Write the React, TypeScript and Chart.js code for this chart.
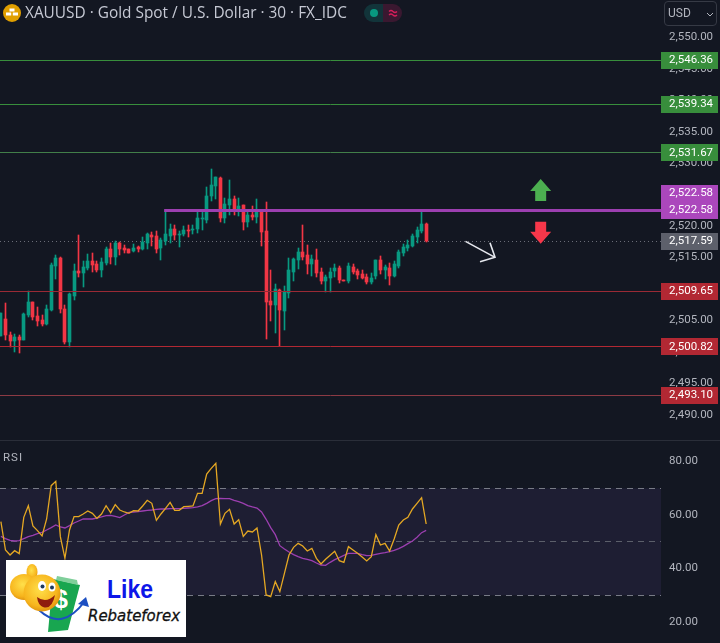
import React, { useEffect, useRef } from "react";
import { Chart, registerables } from "chart.js";

Chart.register(...registerables);

const TITLE = "XAUUSD · Gold Spot / U.S. Dollar · 30 · FX_IDC";

const OPEN = [2502.58,2505.23,2502.68,2501.73,2502.37,2501.89,2505.86,2507.93,2505.71,2505.07,2504.43,2506.66,2513.66,2514.93,2506.82,2501.57,2508.89,2512.86,2512.54,2513.34,2514.45,2513.97,2513.02,2514.13,2516.36,2515.09,2517.31,2516.52,2516.36,2516.04,2516.68,2516.36,2517.31,2518.58,2518.43,2516.52,2517.63,2518.43,2519.54,2518.64,2518.74,2519.43,2519.43,2519.54,2521.18,2520.97,2524.79,2526.38,2527.65,2521.29,2523.35,2524.31,2522.40,2523.35,2520.65,2521.76,2521.45,2522.24,2519.22,2508.09,2507.45,2509.84,2506.50,2509.36,2512.70,2514.61,2515.88,2515.40,2513.97,2514.61,2512.70,2511.27,2511.75,2512.86,2513.34,2511.43,2511.27,2513.50,2512.86,2512.38,2511.91,2511.11,2512.07,2514.61,2513.02,2513.34,2512.07,2513.66,2515.72,2516.52,2516.84,2518.27,2519.22,2520.33];
const HIGH = [2506.18,2507.77,2503.16,2502.84,2502.68,2506.18,2509.63,2507.93,2507.14,2505.86,2507.45,2514.08,2515.40,2515.09,2507.45,2509.36,2513.97,2518.58,2514.45,2515.56,2515.72,2514.45,2514.93,2516.68,2517.31,2517.63,2517.47,2516.99,2516.36,2517.15,2516.84,2518.27,2518.90,2519.06,2519.22,2518.11,2522.56,2520.33,2520.17,2519.22,2520.02,2520.17,2520.17,2522.51,2522.24,2526.22,2529.08,2527.81,2527.81,2524.47,2527.33,2524.79,2524.47,2523.35,2522.56,2523.20,2524.31,2522.24,2523.83,2513.02,2510.79,2510.00,2510.48,2514.93,2514.93,2516.52,2520.17,2516.99,2515.40,2516.36,2513.34,2512.22,2513.34,2513.97,2513.66,2511.43,2514.13,2513.97,2513.18,2513.02,2512.38,2512.54,2514.61,2515.25,2513.81,2514.13,2514.45,2516.20,2517.15,2517.79,2518.74,2519.86,2522.24,2520.49];
const LOW = [2502.58,2501.89,2500.83,2499.98,2499.82,2501.89,2505.55,2505.07,2504.12,2504.12,2504.27,2506.50,2511.59,2506.18,2501.25,2500.78,2508.25,2511.91,2510.32,2513.02,2512.70,2512.70,2511.91,2513.81,2513.97,2513.81,2515.40,2515.72,2515.72,2515.88,2515.88,2516.20,2516.36,2516.84,2515.72,2514.61,2516.99,2517.31,2517.79,2516.68,2518.43,2518.27,2518.74,2518.90,2519.38,2520.49,2523.99,2524.31,2520.65,2520.49,2521.76,2521.76,2521.61,2519.38,2519.86,2520.97,2520.49,2516.84,2502.05,2504.91,2503.00,2500.94,2503.48,2508.57,2511.27,2513.18,2514.61,2512.38,2512.07,2511.91,2510.79,2509.52,2509.52,2511.91,2510.95,2511.32,2510.95,2512.38,2511.59,2511.59,2510.79,2510.79,2511.59,2512.38,2511.59,2510.63,2511.91,2513.34,2515.25,2516.04,2516.68,2517.31,2518.90,2517.47];
const CLOSE = [2506.18,2502.68,2501.73,2502.37,2501.89,2506.02,2507.93,2505.55,2504.91,2504.43,2506.82,2513.81,2514.93,2506.82,2501.57,2509.20,2512.86,2512.54,2513.50,2514.45,2513.81,2513.02,2514.29,2516.36,2515.09,2517.31,2516.36,2516.20,2515.72,2516.52,2516.36,2517.47,2518.74,2518.27,2516.36,2517.79,2518.74,2519.54,2518.58,2518.74,2519.38,2519.27,2519.54,2521.29,2521.29,2524.79,2526.53,2527.81,2521.29,2523.51,2524.31,2522.40,2523.20,2520.65,2521.76,2521.45,2522.24,2519.06,2507.93,2507.45,2510.00,2506.66,2509.52,2513.02,2514.77,2515.88,2515.09,2513.97,2514.77,2512.54,2511.27,2511.91,2512.70,2513.34,2511.43,2511.32,2513.66,2512.70,2512.22,2511.75,2511.11,2511.75,2514.61,2513.02,2513.50,2512.07,2513.97,2515.88,2516.68,2516.99,2518.43,2519.38,2520.33,2517.59];

const RSI = [57.53,46.94,45.07,46.69,45.57,59.15,63.51,55.91,54.17,52.18,58.53,70.99,72.61,51.93,43.83,54.42,59.40,59.40,60.40,61.52,60.65,58.78,60.40,63.51,60.90,63.89,61.89,61.15,60.65,61.64,61.52,63.39,65.51,64.39,58.03,60.40,62.52,64.76,61.77,61.77,63.14,63.26,63.39,68.12,68.12,75.35,77.47,79.34,56.66,60.65,62.14,56.66,58.28,52.05,54.04,53.67,55.17,45.07,30.12,29.50,35.10,31.37,38.22,45.07,47.94,49.43,48.44,46.57,47.56,43.83,41.71,43.45,44.95,46.44,42.95,42.33,48.19,46.94,45.70,44.33,42.83,44.45,52.67,48.81,49.43,46.57,51.05,56.29,58.16,59.15,62.27,64.39,66.50,56.66];
const RSI_MA = [52.05,51.18,50.56,50.31,50.43,51.18,51.93,52.42,53.05,53.55,54.42,55.29,56.29,55.54,55.17,56.04,57.03,57.78,58.53,58.53,58.53,58.90,59.28,59.78,59.90,59.53,59.03,60.02,61.02,61.15,61.27,61.52,61.77,61.89,62.14,62.27,62.27,62.39,62.39,62.39,62.52,62.64,62.77,63.02,63.51,64.39,65.38,66.13,66.25,66.13,66.13,65.51,65.01,64.39,63.51,63.02,62.64,61.15,58.41,55.29,52.67,48.56,47.32,46.19,45.20,44.45,43.83,43.45,42.95,42.08,41.33,41.21,42.33,43.33,44.08,44.95,45.70,45.70,45.70,45.20,44.82,44.95,45.32,45.70,45.95,46.32,46.82,47.44,48.31,49.31,50.31,51.68,53.42,54.29];

const PRICE_TICKS = [2490,2495,2500,2505,2510,2515,2520,2525,2530,2535,2540,2545,2550];
const RSI_TICKS = [20,40,60,80];
const RSI_BANDS = [70,50,30];

const RESISTANCE = [2546.36,2539.34,2531.67];
const SUPPORT = [2509.65,2500.82,2493.10];
const PIVOT = 2522.58;
const LAST_PRICE = 2517.59;
const PIVOT_START_INDEX = 35.7;

// Page geometry of the TradingView panes, expressed as scale bounds
const X_MIN = -0.197;
const X_MAX = 144.35;
const PRICE_MIN = 2486.0;
const PRICE_MAX = 2555.95;
const RSI_MIN = 12.17;
const RSI_MAX = 88.06;
const AXIS_W = 59;

const BG = "#131722";
const UP = "#089981";
const DOWN = "#F23645";
const AXIS_TXT = "#b2b5be";
const FONT_FAMILY = "Roboto, 'Noto Sans', sans-serif";
const RES_LINE = ["#388e3c", "#388e3c", "#427f49"];
const SUP_LINE = ["#9a2a35", "#b22833", "#8c3a44"];
const TAG_GREEN = "#388e3c";
const TAG_RED = "#b22833";
const TAG_PURPLE = "#ab47bc";
const TAG_GREY = "#5d606b";

const fmt = (v: number) =>
  v.toLocaleString("en-US", { minimumFractionDigits: 2, maximumFractionDigits: 2 });

const idx = OPEN.map((_, i) => i);
const hline = (y: number, a = X_MIN, b = X_MAX) => [{ x: a, y }, { x: b, y }];

const fixedAxis = (ticks: number[]) => ({
  position: "right" as const,
  grid: { display: false, drawTicks: false },
  border: { display: false },
  ticks: {
    color: AXIS_TXT,
    padding: 8,
    autoSkip: false,
    font: { family: FONT_FAMILY, size: 11.5 },
    callback: (v: any) => fmt(Number(v)),
  },
  afterBuildTicks: (s: any) => {
    s.ticks = ticks.map((value) => ({ value }));
  },
  afterFit: (s: any) => {
    s.width = AXIS_W;
    s.paddingTop = 0;
    s.paddingBottom = 0;
  },
});

const snapPlugin = {
  id: "snap",
  beforeDatasetsDraw(chart: any) {
    chart.getSortedVisibleDatasetMetas().forEach((meta: any) => {
      const snapLine = meta.type === "line" && meta._dataset.snap;
      meta.data.forEach((el: any) => {
        if (meta.type === "bar") {
          el.x = Math.floor(el.x) + 0.5;
          el.y = Math.round(el.y);
          el.base = Math.round(el.base);
          if (Math.abs(el.y - el.base) < 1) el.base = el.y + 1;
        } else if (snapLine) {
          el.y = Math.floor(el.y) + 0.5 + (meta._dataset.borderWidth === 3 ? 1 : 0);
        }
      });
    });
  },
};

const tag = (ctx: any, yc: number, text: string, color: string) => {
  ctx.fillStyle = color;
  ctx.fillRect(661, Math.round(yc - 8.5), 57, 17);
  ctx.fillStyle = "#ffffff";
  ctx.font = `11.5px ${FONT_FAMILY}`;
  ctx.textAlign = "left";
  ctx.textBaseline = "middle";
  ctx.fillText(text, 669, yc);
};

const overlayPlugin = {
  id: "overlay",
  afterDraw(chart: any) {
    const { ctx, scales } = chart;
    const py = (p: number) => scales.y.getPixelForValue(p);
    const px = (k: number) => scales.x.getPixelForValue(k);
    ctx.save();
    // hand-drawn markers, anchored in chart values
    const upX = px(118.04), upY = py(2527.49);
    ctx.fillStyle = "#4caf50";
    ctx.beginPath();
    [[0,0],[10.5,12],[5.5,12],[5.5,22],[-5.5,22],[-5.5,12],[-10.5,12]].forEach(([a,b],i)=> i? ctx.lineTo(upX+a,upY+b):ctx.moveTo(upX+a,upY+b));
    ctx.closePath(); ctx.fill();
    const dnX = px(118.04), dnY = py(2517.2);
    ctx.fillStyle = "#f7374a";
    ctx.beginPath();
    [[0,0],[10.5,-12],[5.5,-12],[5.5,-22],[-5.5,-22],[-5.5,-12],[-10.5,-12]].forEach(([a,b],i)=> i? ctx.lineTo(dnX+a,dnY+b):ctx.moveTo(dnX+a,dnY+b));
    ctx.closePath(); ctx.fill();
    const wx = px(108.05), wy = py(2515.04);
    ctx.strokeStyle = "#e6e8ee";
    ctx.lineWidth = 1.6;
    ctx.beginPath();
    ctx.moveTo(wx-29.5, wy-16); ctx.lineTo(wx, wy);
    ctx.moveTo(wx-5, wy-14.5); ctx.lineTo(wx, wy); ctx.lineTo(wx-15, wy+4.5);
    ctx.stroke();
    // price tags
    RESISTANCE.forEach((v) => tag(ctx, py(v), fmt(v), TAG_GREEN));
    SUPPORT.forEach((v) => tag(ctx, py(v), fmt(v), TAG_RED));
    tag(ctx, py(PIVOT) - 16.5, fmt(PIVOT), TAG_PURPLE);
    tag(ctx, py(PIVOT) + 0.5, fmt(PIVOT), TAG_PURPLE);
    tag(ctx, py(LAST_PRICE), fmt(LAST_PRICE), TAG_GREY);
    ctx.restore();
  },
};

const bandPlugin = {
  id: "band",
  beforeDatasetsDraw(chart: any) {
    const { ctx, scales, chartArea } = chart;
    const top = scales.y.getPixelForValue(RSI_BANDS[0]);
    const bot = scales.y.getPixelForValue(RSI_BANDS[2]);
    ctx.save();
    ctx.fillStyle = "#1e1e33";
    ctx.fillRect(chartArea.left, top, chartArea.right - chartArea.left, bot - top);
    ctx.restore();
  },
};

const xScale = { type: "linear" as const, min: X_MIN, max: X_MAX, display: false, offset: false };
const baseOpts = {
  responsive: false,
  animation: false as const,
  events: [],
  layout: { padding: 0 },
  plugins: { legend: { display: false }, tooltip: { enabled: false }, title: { display: false } },
};

export default function App() {
  const priceRef = useRef<HTMLCanvasElement>(null);
  const rsiRef = useRef<HTMLCanvasElement>(null);

  useEffect(() => {
    const colors = idx.map((i) => (CLOSE[i] >= OPEN[i] ? UP : DOWN));
    const lineBase = { type: "line" as const, pointRadius: 0, fill: false, snap: true, tension: 0 };
    const price = new Chart(priceRef.current!, {
      type: "bar",
      data: {
        datasets: [
          ...RESISTANCE.map((v, i) => ({ ...lineBase, order: 0, data: hline(v), borderColor: RES_LINE[i], borderWidth: 1 })),
          ...SUPPORT.map((v, i) => ({ ...lineBase, order: 0, data: hline(v), borderColor: SUP_LINE[i], borderWidth: 1 })),
          { ...lineBase, order: 0, data: hline(PIVOT, PIVOT_START_INDEX), borderColor: "#9c3fb0", borderWidth: 3 },
          { ...lineBase, order: 3, data: hline(LAST_PRICE), borderColor: "#6a6d78", borderWidth: 1, borderDash: [1, 3] },
          {
            type: "bar" as const, order: 1, grouped: false, barThickness: 3,
            data: idx.map((i) => ({ x: i, y: [OPEN[i], CLOSE[i]] })),
            backgroundColor: colors, borderWidth: 0,
          },
          {
            type: "bar" as const, order: 2, grouped: false, barThickness: 1,
            data: idx.map((i) => ({ x: i, y: [LOW[i], HIGH[i]] })),
            backgroundColor: colors, borderWidth: 0,
          },
        ] as any,
      },
      options: {
        ...baseOpts,
        scales: { x: xScale, y: { ...fixedAxis(PRICE_TICKS), min: PRICE_MIN, max: PRICE_MAX } },
      } as any,
      plugins: [snapPlugin, overlayPlugin],
    });
    const rsi = new Chart(rsiRef.current!, {
      type: "line",
      data: {
        datasets: [
          { ...lineBase, order: 3, data: hline(RSI_BANDS[0]), borderColor: "#787b86", borderWidth: 1, borderDash: [6, 5] },
          { ...lineBase, order: 3, data: hline(RSI_BANDS[1]), borderColor: "#5c5f6b", borderWidth: 1, borderDash: [6, 5] },
          { ...lineBase, order: 3, data: hline(RSI_BANDS[2]), borderColor: "#787b86", borderWidth: 1, borderDash: [6, 5] },
          { type: "line", order: 2, data: idx.map((i) => ({ x: i, y: RSI_MA[i] })), borderColor: "#9c3fb0", borderWidth: 1.3, pointRadius: 0, tension: 0 },
          { type: "line", order: 1, data: idx.map((i) => ({ x: i, y: RSI[i] })), borderColor: "#e5a823", borderWidth: 1.3, pointRadius: 0, tension: 0 },
        ] as any,
      },
      options: {
        ...baseOpts,
        scales: { x: xScale, y: { ...fixedAxis(RSI_TICKS), min: RSI_MIN, max: RSI_MAX } },
      } as any,
      plugins: [snapPlugin, bandPlugin],
    });
    return () => {
      price.destroy();
      rsi.destroy();
    };
  }, []);

  const abs = (s: React.CSSProperties): React.CSSProperties => ({ position: "absolute", ...s });

  return (
    <div style={{ position: "fixed", left: 0, top: 0, width: 720, height: 643, overflow: "hidden", background: BG, fontFamily: FONT_FAMILY }}>
      <canvas ref={priceRef} width={720} height={440} style={abs({ left: 0, top: 0, width: 720, height: 440 })} />
      <canvas ref={rsiRef} width={720} height={203} style={abs({ left: 0, top: 440, width: 720, height: 203 })} />
      <div style={abs({ left: 0, top: 440, width: 720, height: 1, background: "#2a2e39" })} />

      <svg width={20} height={20} style={abs({ left: 2, top: 3 })}>
        <circle cx={10} cy={10} r={9} fill="#e09f00" />
        <rect x={7.5} y={5.5} width={5} height={3} fill="#fff" />
        <rect x={4} y={9.5} width={5.2} height={3} fill="#fff" />
        <rect x={10.8} y={9.5} width={5.2} height={3} fill="#fff" />
      </svg>
      <div style={abs({ left: 25, top: 4, fontFamily: "'Open Sans', sans-serif", fontSize: 15.4, lineHeight: "18px", color: "#c6c9d4", whiteSpace: "nowrap" })}>{TITLE}</div>

      <svg width={42} height={20} style={abs({ left: 362, top: 3 })}>
        <path d="M11 1 H21 V19 H11 A9 9 0 0 1 11 1 Z" fill="#12343a" />
        <path d="M21 1 H31 A9 9 0 0 1 31 19 H21 Z" fill="#3a1830" />
        <circle cx={12} cy={10} r={4} fill="#089981" />
        <path d="M27 8.5 q2 -2 4 0 t4 0 M27 12 q2 -2 4 0 t4 0" stroke="#d81e5b" strokeWidth={1.2} fill="none" />
      </svg>

      <div style={abs({ left: 664, top: 1, width: 53, height: 25, boxSizing: "border-box", border: "1px solid #363a45", borderRadius: 4 })} />
      <div style={abs({ left: 668, top: 5, fontSize: 12, lineHeight: "16px", color: "#b2b5be" })}>USD</div>
      <svg width={8} height={6} style={abs({ left: 706, top: 12 })}>
        <path d="M1 1 L4 4 L7 1" stroke="#b2b5be" strokeWidth={1} fill="none" />
      </svg>

      <div style={abs({ left: 3, top: 450, fontSize: 11.5, lineHeight: "14px", letterSpacing: 1, color: "#b2b5be" })}>RSI</div>

      <svg width={180} height={77} style={abs({ left: 6, top: 560 })}>
        <defs>
          <radialGradient id="face" cx="45%" cy="40%" r="65%">
            <stop offset="0%" stopColor="#ffe04a" />
            <stop offset="70%" stopColor="#f7b51d" />
            <stop offset="100%" stopColor="#d98a0c" />
          </radialGradient>
        </defs>
        <rect width={180} height={77} fill="#ffffff" />
        <polygon points="47,19 74,25 62,70 42,72" fill="#18a650" />
        <polygon points="51,16 71,20 72,25 50,20" fill="#7fcf9a" />
        <text x={55} y={48} fontFamily="Liberation Sans" fontWeight="bold" fontSize={25} fill="#ffffff" textAnchor="middle">$</text>
        <path d="M33 50 Q56 72 79 41" stroke="#1c4fc2" strokeWidth={2} fill="none" />
        <path d="M72 44 L80 37 L83 47 Z" fill="#1c4fc2" />
        <ellipse cx={26} cy={12} rx={5.5} ry={8} fill="url(#face)" />
        <ellipse cx={18} cy={27} rx={14} ry={13} fill="url(#face)" />
        <circle cx={36} cy={33} r={18.5} fill="url(#face)" />
        <ellipse cx={36} cy={26} rx={4} ry={5} fill="#fff" />
        <ellipse cx={46} cy={27} rx={3.5} ry={4.5} fill="#fff" />
        <circle cx={36.5} cy={26.5} r={2} fill="#1d3a5e" />
        <circle cx={46} cy={27.5} r={2} fill="#1d3a5e" />
        <path d="M31 37 Q40 44 49 35 Q46 50 37 47 Q32 45 31 37 Z" fill="#8f1c0e" />
        <text x={101} y={38} fontFamily="Liberation Sans" fontWeight="bold" fontSize={26} fill="#0d16e8" textLength={46} lengthAdjust="spacingAndGlyphs">Like</text>
        <text x={82} y={61} fontFamily="DejaVu Sans" fontSize={15} fontStyle="italic" fill="#111111" stroke="#111111" strokeWidth={0.3} textLength={92} lengthAdjust="spacingAndGlyphs">Rebateforex</text>
      </svg>
    </div>
  );
}
